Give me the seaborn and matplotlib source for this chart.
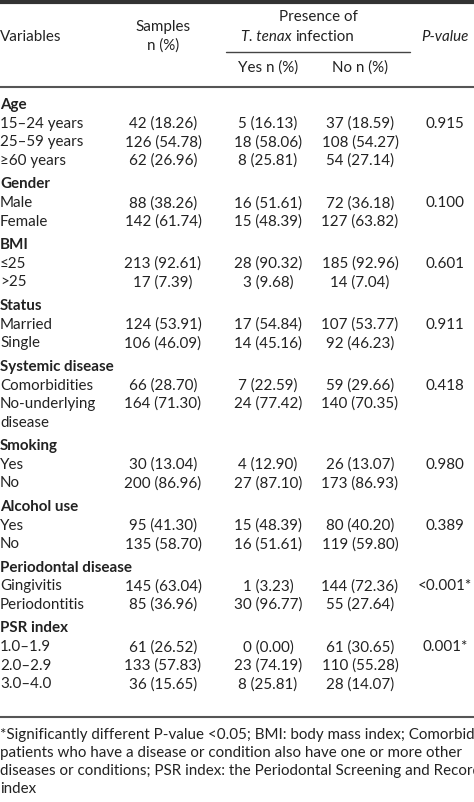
import matplotlib.pyplot as plt
import seaborn as sns

sns.set_theme(style="white")
plt.rcParams["font.family"] = ["Lato", "DejaVu Sans"]

# table content
groups = ["Age", "Gender", "BMI", "Status", "Systemic disease", "Smoking",
          "Alcohol use", "Periodontal disease", "PSR index"]
labels = [
    ["15–24 years", "25–59 years", "≥60 years"],
    ["Male", "Female"],
    ["≤25", ">25"],
    ["Married", "Single"],
    ["Comorbidities", "No-underlying\ndisease"],
    ["Yes", "No"],
    ["Yes", "No"],
    ["Gingivitis", "Periodontitis"],
    ["1.0–1.9", "2.0–2.9", "3.0–4.0"],
]
samples = [
    ["42 (18.26)", "126 (54.78)", "62 (26.96)"],
    ["88 (38.26)", "142 (61.74)"],
    ["213 (92.61)", "17 (7.39)"],
    ["124 (53.91)", "106 (46.09)"],
    ["66 (28.70)", "164 (71.30)"],
    ["30 (13.04)", "200 (86.96)"],
    ["95 (41.30)", "135 (58.70)"],
    ["145 (63.04)", "85 (36.96)"],
    ["61 (26.52)", "133 (57.83)", "36 (15.65)"],
]
yes_n = [
    ["5 (16.13)", "18 (58.06)", "8 (25.81)"],
    ["16 (51.61)", "15 (48.39)"],
    ["28 (90.32)", "3 (9.68)"],
    ["17 (54.84)", "14 (45.16)"],
    ["7 (22.59)", "24 (77.42)"],
    ["4 (12.90)", "27 (87.10)"],
    ["15 (48.39)", "16 (51.61)"],
    ["1 (3.23)", "30 (96.77)"],
    ["0 (0.00)", "23 (74.19)", "8 (25.81)"],
]
no_n = [
    ["37 (18.59)", "108 (54.27)", "54 (27.14)"],
    ["72 (36.18)", "127 (63.82)"],
    ["185 (92.96)", "14 (7.04)"],
    ["107 (53.77)", "92 (46.23)"],
    ["59 (29.66)", "140 (70.35)"],
    ["26 (13.07)", "173 (86.93)"],
    ["80 (40.20)", "119 (59.80)"],
    ["144 (72.36)", "55 (27.64)"],
    ["61 (30.65)", "110 (55.28)", "28 (14.07)"],
]
p_values = ["0.915", "0.100", "0.601", "0.911", "0.418", "0.980", "0.389", "<0.001*", "0.001*"]
footnote = [
    "*Significantly different P-value <0.05; BMI: body mass index; Comorbidities:",
    "patients who have a disease or condition also have one or more other",
    "diseases or conditions; PSR index: the Periodontal Screening and Record",
    "index",
]

W, H = 474, 802
fig = plt.figure(figsize=(W / 100, H / 100), dpi=100)
ax = fig.add_axes([0, 0, 1, 1])
ax.set_xlim(0, W)
ax.set_ylim(H, 0)
ax.axis("off")

fs = 10.9
col = "#222222"
xs_s, xs_y, xs_n, xs_p = 163, 268, 360, 445

# header
ax.plot([0, W], [1.5, 1.5], color="#333333", lw=3)
ax.text(0, 37, "Variables", fontsize=fs, va="center", color=col)
ax.text(xs_s, 27, "Samples", fontsize=fs, va="center", ha="center", color=col)
ax.text(xs_s, 46, "n (%)", fontsize=fs, va="center", ha="center", color=col)
ax.text(318, 17, "Presence of", fontsize=fs, va="center", ha="center", color=col)
ax.text(292, 37, "T. tenax", fontsize=fs, va="center", ha="right", style="italic", color=col)
ax.text(295, 37, "infection", fontsize=fs, va="center", ha="left", color=col)
ax.plot([226, 410], [52, 52], color="#444444", lw=1)
ax.text(xs_y, 68, "Yes n (%)", fontsize=fs, va="center", ha="center", color=col)
ax.text(xs_n, 68, "No n (%)", fontsize=fs, va="center", ha="center", color=col)
ax.text(xs_p, 37, "P-value", fontsize=fs, va="center", ha="center", style="italic", color=col)
ax.plot([0, W], [87, 87], color="#555555", lw=1.5)

y = 105
for g, labs, s, yn, nn, p in zip(groups, labels, samples, yes_n, no_n, p_values):
    ax.text(0, y, g, fontsize=fs, va="center", weight="bold", color=col)
    y += 18.8
    for i, lab in enumerate(labs):
        ax.text(0, y, lab.split("\n")[0], fontsize=fs, va="center", color=col)
        ax.text(xs_s, y, s[i], fontsize=fs, va="center", ha="center", color=col)
        ax.text(xs_y, y, yn[i], fontsize=fs, va="center", ha="center", color=col)
        ax.text(xs_n, y, nn[i], fontsize=fs, va="center", ha="center", color=col)
        if i == 0:
            ax.text(xs_p, y, p, fontsize=fs, va="center", ha="center", color=col)
        if "\n" in lab:
            y += 18.5
            ax.text(0, y, lab.split("\n")[1], fontsize=fs, va="center", color=col)
        y += 18.5
    y += 5

ax.plot([0, W], [717, 717], color="#555555", lw=1.5)
for i, line in enumerate(footnote):
    ax.text(0, 735 + i * 18, line, fontsize=fs, va="center", color=col)

fig.savefig("out.png", dpi=100)
